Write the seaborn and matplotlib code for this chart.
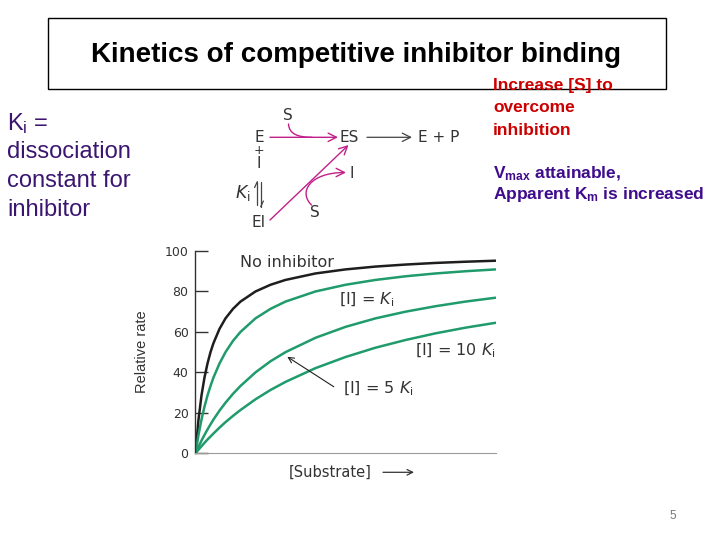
import matplotlib
matplotlib.use("Agg")
import matplotlib.pyplot as plt
import numpy as np
import pandas as pd
import seaborn as sns
from matplotlib.patches import FancyArrowPatch, Rectangle
from matplotlib.path import Path

# ---------------- data ----------------
substrate = [0, 1, 2, 3, 4, 5, 6, 8, 10, 12.5, 15, 20, 25, 30, 40, 50, 60, 70, 80, 90, 100]
rate_none = [0, 16.7, 28.6, 37.5, 44.4, 50.0, 54.5, 61.5, 66.7, 71.4, 75.0, 80.0, 83.3, 85.7, 88.9, 90.9, 92.3, 93.3, 94.1, 94.7, 95.2]
rate_ki   = [0, 9.1, 16.7, 23.1, 28.6, 33.3, 37.5, 44.4, 50.0, 55.6, 60.0, 66.7, 71.4, 75.0, 80.0, 83.3, 85.7, 87.5, 88.9, 90.0, 90.9]
rate_5ki  = [0, 3.2, 6.3, 9.1, 11.8, 14.3, 16.7, 21.1, 25.0, 29.4, 33.3, 40.0, 45.5, 50.0, 57.1, 62.5, 66.7, 70.0, 72.7, 75.0, 76.9]
rate_10ki = [0, 1.8, 3.5, 5.2, 6.8, 8.3, 9.8, 12.7, 15.4, 18.5, 21.4, 26.7, 31.3, 35.3, 42.1, 47.6, 52.2, 56.0, 59.3, 62.1, 64.5]
conditions = ["No inhibitor", "[I] = Ki", "[I] = 5 Ki", "[I] = 10 Ki"]
y_ticks = [0, 20, 40, 60, 80, 100]

series = [rate_none, rate_ki, rate_5ki, rate_10ki]
df = pd.DataFrame({
    "substrate": substrate * len(conditions),
    "rate": [v for s in series for v in s],
    "condition": [c for c in conditions for _ in substrate],
})

GREEN = "#1f9b6c"
palette = {"No inhibitor": "#1e1e1e", "[I] = Ki": GREEN, "[I] = 5 Ki": GREEN, "[I] = 10 Ki": GREEN}

sns.set_style("ticks")
plt.rcParams["font.family"] = ["DejaVu Sans"]
plt.rcParams["mathtext.fontset"] = "custom"
plt.rcParams["mathtext.rm"] = "Liberation Sans"
plt.rcParams["mathtext.it"] = "Liberation Sans:italic"
plt.rcParams["mathtext.bf"] = "Liberation Sans:bold"

fig = plt.figure(figsize=(7.2, 5.4), dpi=100)

# background overlay in pixel coordinates (y downwards)
bg = fig.add_axes([0, 0, 1, 1])
bg.set_xlim(0, 720)
bg.set_ylim(540, 0)
bg.axis("off")

SLIDE = "Liberation Sans"
CH = "#333333"

# title box
bg.add_patch(Rectangle((48, 18), 618, 71, fill=False, edgecolor="black", lw=1.0))
bg.text(356, 62, "Kinetics of competitive inhibitor binding", family=SLIDE,
        fontsize=20, fontweight="bold", ha="center", va="baseline", color="black")

# left text
PURP = "#3b1670"
left_lines = [r"K$_\mathrm{i}$ =", "dissociation", "constant for", "inhibitor"]
for txt, yb in zip(left_lines, [130, 158.5, 187, 215.5]):
    bg.text(7, yb, txt, family=SLIDE, fontsize=17, color=PURP, ha="left", va="baseline",
            math_fontfamily="custom")

# right text
RED = "#cc0000"
for txt, yb in zip(["Increase [S] to", "overcome", "inhibition"], [90, 112.5, 135]):
    bg.text(493, yb, txt, family=SLIDE, fontsize=12.5, fontweight="bold", color=RED,
            ha="left", va="baseline")
PURP2 = "#3f0c8c"
bg.text(493, 178, r"V$_\mathbf{max}$ attainable,", family=SLIDE, fontsize=12.5, fontweight="bold",
        color=PURP2, ha="left", va="baseline", math_fontfamily="custom")
bg.text(493, 199, r"Apparent K$_\mathbf{m}$ is increased", family=SLIDE, fontsize=12.5,
        fontweight="bold", color=PURP2, ha="left", va="baseline", math_fontfamily="custom")

# page number
bg.text(673, 519, "5", family=SLIDE, fontsize=8.5, color="#777777", ha="center", va="baseline")

# ---------------- reaction diagram ----------------
MAG = "#c0208a"
GRY = "#444444"
DF = 11
def dtext(x, yb, s, **kw):
    bg.text(x, yb, s, fontsize=kw.pop("fontsize", DF), color=kw.pop("color", CH), ha="center",
            va="baseline", **kw)

dtext(288, 120.5, "S")
dtext(259, 141.5, "E")
dtext(259, 154.5, "+", fontsize=9)
dtext(259, 168.5, "I")
dtext(349, 141.5, "ES")
dtext(438.5, 141.5, "E + P")
dtext(351.7, 178, "I")
dtext(243, 198, r"$K_\mathrm{i}$", fontsize=12.5, math_fontfamily="dejavusans")
dtext(259, 227, "EI")
dtext(315, 217, "S")

astyle = "->,head_length=0.6,head_width=0.3"
bg.add_patch(FancyArrowPatch((270, 137.3), (338, 137.3), arrowstyle=astyle, mutation_scale=10,
                             color=MAG, lw=1.0, shrinkA=0, shrinkB=0))
bg.add_patch(FancyArrowPatch(path=Path([(288.5, 124), (289, 134), (298, 137.3), (312, 137.3)],
                                       [Path.MOVETO, Path.CURVE4, Path.CURVE4, Path.CURVE4]),
                             arrowstyle="-", color=MAG, lw=1.0))
bg.add_patch(FancyArrowPatch((367, 137.3), (412, 137.3), arrowstyle=astyle, mutation_scale=10,
                             color=GRY, lw=0.9, shrinkA=0, shrinkB=0))
bg.add_patch(FancyArrowPatch((270, 220), (348.5, 145), arrowstyle=astyle, mutation_scale=10,
                             color=MAG, lw=1.0, shrinkA=0, shrinkB=0))
bg.add_patch(FancyArrowPatch(path=Path([(311.5, 205), (298, 192), (310, 172.5), (346, 172.5)],
                                       [Path.MOVETO, Path.CURVE4, Path.CURVE4, Path.CURVE4]),
                             arrowstyle=astyle, mutation_scale=10, color=MAG, lw=1.0))
# equilibrium harpoons
bg.plot([257.3, 257.3], [205, 181.7], color=GRY, lw=0.9)
bg.plot([257.3, 254.6], [181.7, 187.5], color=GRY, lw=0.9)
bg.plot([260.7, 260.7], [181.7, 206.7], color=GRY, lw=0.9)
bg.plot([260.7, 263.4], [206.7, 201], color=GRY, lw=0.9)

# ---------------- chart ----------------
ax = fig.add_axes([195.5 / 720, 1 - 453.3 / 540, 300 / 720, 202.3 / 540])
ax.patch.set_alpha(0)
sns.lineplot(data=df, x="substrate", y="rate", hue="condition", hue_order=conditions,
             palette=palette, estimator=None, legend=False, ax=ax, linewidth=1.8)
ax.set_xlim(0, 100)
ax.set_ylim(0, 100)
ax.set_xticks([])
ax.set_yticks(y_ticks)
ax.tick_params(axis="y", direction="in", length=9, width=1.0, color=CH, labelsize=9,
               labelcolor=CH, pad=5)
ax.set_xlabel("")
ax.set_ylabel("")
for s in ["top", "right"]:
    ax.spines[s].set_visible(False)
ax.spines["left"].set_color(CH)
ax.spines["left"].set_linewidth(1.0)
ax.spines["bottom"].set_color("#9a9a9a")
ax.spines["bottom"].set_linewidth(0.8)

lab = dict(fontsize=11.5, color=CH, va="baseline", math_fontfamily="dejavusans")
ax.text(15, 92.1, "No inhibitor", ha="left", **lab)
ax.text(47.8, 73.7, r"[I] = $K_\mathrm{i}$", ha="left", **lab)
ax.text(100, 48.5, r"[I] = 10 $K_\mathrm{i}$", ha="right", **lab)
ax.text(49.2, 29.6, r"[I] = 5 $K_\mathrm{i}$", ha="left", **lab)
ax.annotate("", xy=(30.6, 47.7), xytext=(46.1, 32.9),
            arrowprops=dict(arrowstyle="->,head_length=0.4,head_width=0.2", color="#222222",
                            lw=0.8, shrinkA=0, shrinkB=0))

# axis labels (slide pixel coords)
bg.text(141.5, 351.7, "Relative rate", family=SLIDE, fontsize=10.5, color=CH, rotation=90,
        ha="center", va="center")
bg.text(330, 476.7, "[Substrate]", fontsize=10.5, color=CH, ha="center", va="baseline")
bg.add_patch(FancyArrowPatch((383, 472.3), (414, 472.3), arrowstyle="->,head_length=0.4,head_width=0.2",
                             mutation_scale=10, color=CH, lw=0.9, shrinkA=0, shrinkB=0))

fig.savefig("out.png", dpi=100)
